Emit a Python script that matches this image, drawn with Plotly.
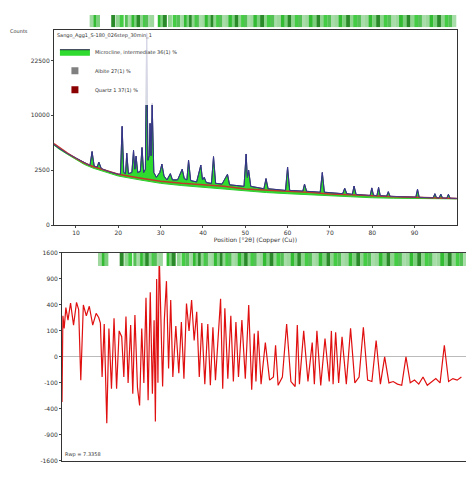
import numpy as np
import plotly.graph_objects as go

x_obs = [4.8, 6, 8, 10, 12, 13.3, 13.8, 14.3, 15, 15.4, 16, 18, 20, 20.5, 20.9, 21.3, 21.7, 22, 22.4,
         23.2, 23.6, 23.9, 24.2, 24.6, 25.2, 25.6, 26, 26.4, 26.7, 27.0, 27.3, 27.5, 27.75, 28.0, 28.4,
         29, 29.8, 30.3, 30.8, 31.5, 32.3, 32.8, 34, 35.1, 35.6, 36.2, 36.6, 37.1, 38.5, 39.5, 39.9, 40.3,
         40.8, 42, 42.5, 43, 44.5, 45.8, 46.3, 48, 49.7, 50.2, 50.5, 50.8, 51.3, 54.4, 54.9, 55.4, 59.5,
         60, 60.5, 63.6, 64, 64.5, 67.7, 68.2, 68.7, 73, 73.5, 74, 75.3, 75.7, 76.2, 79.5, 79.9, 80.3,
         81.1, 81.5, 81.9, 83.4, 83.8, 84.2, 90.3, 90.7, 91.1, 94.4, 94.8, 95.2, 95.8, 96.2, 96.6, 97.6,
         98, 98.4, 100]
y_obs = [5400, 4900, 4250, 3700, 3200, 2950, 4500, 2900, 2800, 3300, 2650, 2350, 2150, 2150, 8100, 2300,
         2200, 4300, 2200, 2300, 4650, 2600, 3950, 2300, 2400, 5000, 2300, 2600, 30500, 3500, 4000, 8600,
         4000, 12300, 2300, 1900, 2300, 3100, 2000, 1700, 2200, 1700, 1700, 2600, 1800, 1700, 3500, 1650,
         1550, 3000, 1700, 1900, 1500, 1450, 3900, 1450, 1400, 2150, 1350, 1300, 1250, 4200, 1900, 2500,
         1250, 1100, 1800, 1100, 1000, 2800, 1000, 960, 1400, 950, 900, 2300, 900, 820, 1130, 820, 790,
         1270, 780, 730, 1150, 740, 720, 1180, 720, 700, 930, 690, 650, 1070, 640, 620, 820, 620, 610,
         800, 610, 600, 790, 600, 590]

# background (red) and microcline fill (green) base
x_bg = [4.8, 6, 8, 10, 12, 14, 16, 18, 20, 25, 30, 35, 40, 45, 50, 55, 60, 65, 70, 75, 80, 85, 90, 95, 100]
y_bg = [5500, 5000, 4300, 3700, 3200, 2850, 2600, 2350, 2150, 1850, 1600, 1450, 1350, 1250, 1080, 1000,
        950, 900, 800, 760, 700, 670, 640, 610, 590]
y_green = [5300, 4800, 4150, 3550, 3050, 2700, 2450, 2200, 2000, 1700, 1450, 1300, 1180, 1080, 960, 880,
           820, 770, 700, 650, 620, 600, 590, 580, 570]

# difference curve (2theta, counts)
x_diff = [4.8, 5.0, 5.3, 5.7, 6.2, 6.8, 7.5, 8.2, 8.7, 9.2, 9.8, 10.5, 11.2, 12, 12.8, 13.4, 13.8, 14.2,
          14.7, 15.3, 15.8, 16.4, 17, 17.6, 18.2, 18.8, 19.3, 19.8, 20.3, 20.9, 21.4, 21.9, 22.5, 23,
          23.5, 24, 24.5, 25, 25.5, 26, 26.4, 26.7, 27, 27.3, 27.6, 28, 28.4, 28.8, 29.3, 29.8, 30.3, 30.8,
          31.5, 32.2, 32.8, 33.4, 34, 34.6, 35.2, 35.8, 36.4, 37, 37.6, 38.3, 39, 39.6, 40.2, 40.8, 41.5,
          42, 42.5, 43, 43.7, 44.4, 45, 45.6, 46.2, 47, 47.8, 48.6, 49.3, 49.9, 50.3, 50.8, 51.5, 52.5,
          53.5, 54.4, 54.9, 55.5, 56.5, 57.5, 58.5, 59.5, 60, 60.5, 61.5, 62.5, 63.5, 64, 64.6, 65.5, 66.5,
          67.5, 68, 68.4, 69, 69.7, 70.5, 71.5, 72.5, 73.5, 74.5, 75.5, 76.5, 77.5, 78.5, 79.5, 80.5,
          81.5, 82.5, 83.5, 84.5, 85.5, 86.5, 87.5, 88.5, 89.5, 90.5, 91.5, 92.5, 93.5, 94.5, 95.5, 96.5,
          97.5, 98.5, 99.5, 100]
y_diff = [-300, 250, 120, 360, 200, 430, 150, 440, 330, -80, 400, 250, 380, 150, 280, 230, 170, -60,
          160, -650, 120, -150, 220, -150, 100, 60, -60, 240, -100, 150, -200, 260, -140, -350, 120, -100,
          520, -280, 620, -200, 200, -620, 900, -100, 1600, 260, -130, 200, 850, -20, 480, -60, 140, -40,
          180, -70, 420, 100, 480, 40, 300, -60, 170, -110, 160, -120, 130, -80, 140, 500, -150, 350, -70,
          250, -90, 180, -60, 200, -70, 400, -160, 80, -90, 100, -110, 30, -80, -60, 20, -120, -60, 160,
          -90, -130, 150, -110, 100, -90, 30, -110, 100, -120, 50, -90, 100, -110, 90, -100, 60, -110, 120,
          -100, -60, 130, -80, -90, 40, -110, 0, -100, -90, -110, -120, 0, -100, -80, -110, -60, -120, -90,
          -70, -100, 20, -90, -70, -80, -60]

# reflection marks
refl_pos = [13.7, 14.6, 15.2, 18.8, 19.9, 20.8, 22.0, 22.7, 23.2, 23.6, 24.2, 24.8, 25.6, 26.3, 26.7,
            27.5, 28.0, 29.8, 30.4, 31.0, 32.2, 33.3, 34.2, 35.1, 35.6, 36.0, 36.6, 37.2, 37.8, 38.5,
            39.0, 39.5, 40.3, 40.9, 41.6, 42.3, 42.9, 43.6, 44.2, 45.0, 45.8, 46.5, 47.3, 48.0, 48.8,
            49.5, 50.2, 50.9, 51.7, 52.4, 53.2, 54.0, 54.9, 55.6, 56.5, 57.3, 58.0, 58.9, 59.7, 60.5,
            61.3, 62.2, 63.0, 63.9, 64.7, 65.5, 66.4, 67.3, 68.2, 69.0, 69.9, 70.8, 71.6, 72.5, 73.4,
            74.3, 75.2, 76.0, 76.9, 77.8, 78.7, 79.6, 80.5, 81.4, 82.3, 83.2, 84.1, 85.0, 85.9, 86.8,
            87.7, 88.6, 89.5, 90.4, 91.3, 92.2, 93.1, 94.0, 94.9, 95.8, 96.7, 97.6, 98.5, 99.4]
refl_col = ["#9fd89f", "#33bb33", "#7ccf7c", "#2a8a2a", "#8fd48f", "#44cc44", "#55c055", "#a8dca8"]

top_ticks = [0, 2500, 10000, 22500]
diff_ticks = [-1600, -900, -400, -100, 0, 100, 400, 900, 1600]


def sq(v):
    v = np.array(v, dtype=float)
    return np.sign(v) * np.sqrt(np.abs(v))


fig = go.Figure()

# top panel
fig.add_trace(go.Scatter(x=x_bg, y=sq(y_green), mode="lines", line=dict(color="#2ecc2e", width=1),
                         showlegend=False, xaxis="x", yaxis="y"))
fig.add_trace(go.Scatter(x=x_obs, y=sq(y_obs), mode="lines", line=dict(color="#222244", width=1),
                         fill="tonexty", fillcolor="#2edb2e", name="Microcline, intermediate 36(1) %",
                         xaxis="x", yaxis="y"))
fig.add_trace(go.Scatter(x=x_bg, y=sq(y_bg), mode="lines", line=dict(color="#c0392b", width=1.5),
                         showlegend=False, xaxis="x", yaxis="y"))
fig.add_trace(go.Scatter(x=x_obs, y=sq(y_obs), mode="lines", line=dict(color="#3a3a9a", width=0.8),
                         showlegend=False, xaxis="x", yaxis="y"))
fig.add_trace(go.Scatter(x=[None], y=[None], mode="markers", marker=dict(symbol="square", color="#808080", size=7),
                         name="Albite 27(1) %", xaxis="x", yaxis="y"))
fig.add_trace(go.Scatter(x=[None], y=[None], mode="markers", marker=dict(symbol="square", color="#8b0000", size=7),
                         name="Quartz 1 37(1) %", xaxis="x", yaxis="y"))

# reflection markers for both panels
for i, p in enumerate(refl_pos):
    c = refl_col[i % len(refl_col)]
    for xa, ya in (("x", "y3"), ("x2", "y4")):
        fig.add_trace(go.Scatter(x=[p, p], y=[0, 1], mode="lines", line=dict(color=c, width=4),
                                 showlegend=False, hoverinfo="skip", xaxis=xa, yaxis=ya))

# bottom panel
fig.add_trace(go.Scatter(x=x_diff, y=sq(y_diff), mode="lines", line=dict(color="#e01010", width=1.2),
                         showlegend=False, xaxis="x2", yaxis="y2"))

axfont = dict(family="DejaVu Sans", size=6, color="#333")
fig.update_layout(
    width=474, height=487, margin=dict(l=0, r=0, t=0, b=0),
    paper_bgcolor="white", plot_bgcolor="white", font=axfont,
    xaxis=dict(domain=[0.097, 0.947], range=[4.8, 100], tickvals=list(range(10, 100, 10)),
               showline=True, linecolor="#333", mirror=True, ticks="outside", ticklen=2,
               showgrid=False, zeroline=False, anchor="y",
               title=dict(text="Position [°2θ] (Copper (Cu))", font=axfont, standoff=2)),
    yaxis=dict(domain=[0.556, 0.963], range=[0, 178], tickvals=sq(top_ticks),
               ticktext=[str(t) for t in top_ticks], showline=True, linecolor="#333", mirror=True,
               ticks="outside", ticklen=2, showgrid=False, zeroline=False, anchor="x"),
    yaxis3=dict(domain=[0.968, 0.994], range=[0, 1], visible=False, anchor="x"),
    xaxis2=dict(domain=[0.114, 0.97], range=[4.8, 100], showticklabels=False, showline=True,
                linecolor="#333", mirror=True, showgrid=False, zeroline=False, anchor="y2"),
    yaxis2=dict(domain=[0.065, 0.498], range=[-40, 40], tickvals=sq(diff_ticks),
                ticktext=[str(t) for t in diff_ticks], showline=True, linecolor="#333", mirror=True,
                ticks="outside", ticklen=2, showgrid=False, zeroline=True, zerolinecolor="#bbb",
                zerolinewidth=1, anchor="x2"),
    yaxis4=dict(domain=[0.471, 0.498], range=[0, 1], visible=False, anchor="x2"),
    legend=dict(x=0.099, y=0.961, xanchor="left", yanchor="top", bgcolor="rgba(255,255,255,0.8)",
                font=dict(family="DejaVu Sans", size=5), itemwidth=30, traceorder="normal",
                tracegroupgap=0, title=dict(text="Sango_Agg1_S-180_026step_30min_1", side="top",
                                            font=dict(size=5))),
    annotations=[
        dict(text="Counts", x=0.0, y=0.97, xref="paper", yref="paper", showarrow=False,
             xanchor="left", font=dict(size=5)),
        dict(text="Rwp = 7.3358", x=0.116, y=0.067, xref="paper", yref="paper", showarrow=False,
             xanchor="left", yanchor="bottom", font=dict(size=5)),
    ],
)

fig.write_html("out.html")
